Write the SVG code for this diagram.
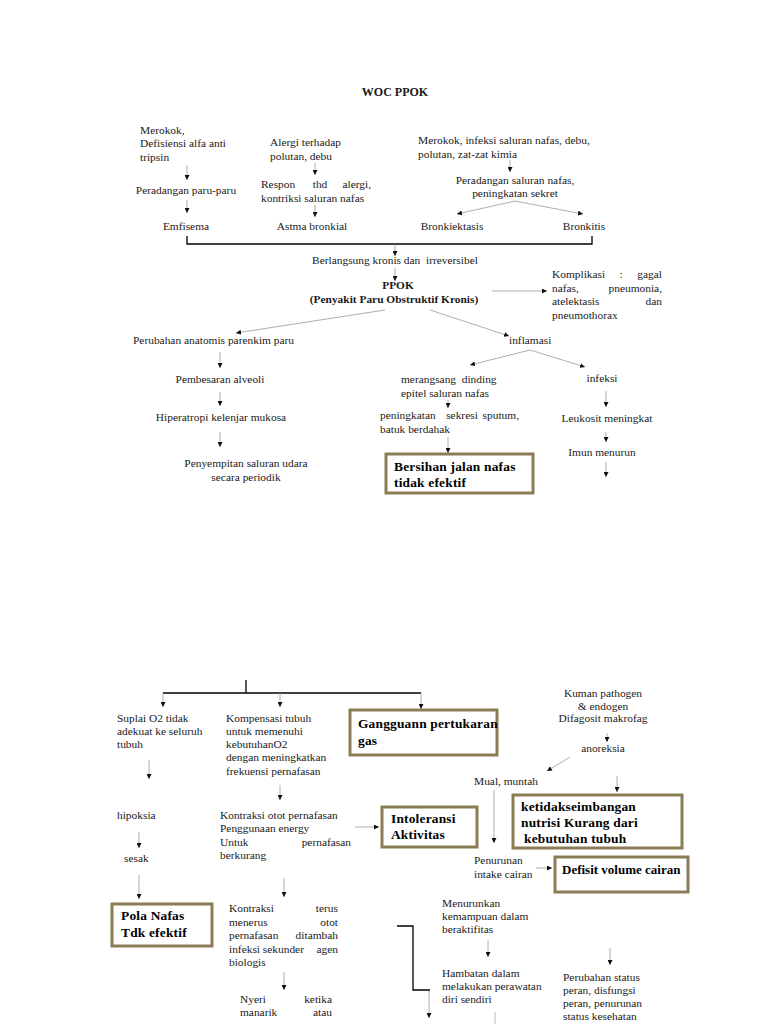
<svg xmlns="http://www.w3.org/2000/svg" width="768" height="1024" viewBox="0 0 768 1024">
<style>
text{font-family:"Liberation Serif","Times New Roman",serif;font-size:11.4px;fill:#1a1a1a}
.m{text-anchor:middle}
.e{text-anchor:end}
.b{font-weight:bold}
.bx{font-weight:bold;font-size:13.4px;letter-spacing:0.2px;fill:#000}
.box{fill:#fff;stroke:#8a7d56;stroke-width:3}
.a{stroke:#9a9a9a;stroke-width:0.8;fill:none;marker-end:url(#ah)}
.k{stroke:#000;stroke-width:1.3;fill:none}
</style>
<defs>
<marker id="ah" viewBox="0 0 6 6" refX="6" refY="3" markerWidth="5" markerHeight="5" orient="auto" markerUnits="userSpaceOnUse"><path d="M0,0 L6,3 L0,6 z" fill="#111"/></marker>
</defs>
<rect width="768" height="1024" fill="#fff"/>
<text x="395" y="96" class="m b" style="font-size:12px">WOC PPOK</text>

<g id="connectors">
<line class="a" x1="187" y1="165" x2="187" y2="180"/>
<line class="a" x1="187" y1="200" x2="187" y2="213"/>
<line class="a" x1="315" y1="163" x2="315" y2="175"/>
<line class="a" x1="315" y1="205" x2="315" y2="217"/>
<line class="a" x1="510" y1="160" x2="510" y2="172"/>
<line class="a" x1="515" y1="201" x2="457" y2="214"/>
<line class="a" x1="515" y1="201" x2="583" y2="214"/>
<path class="k" d="M187,236 V244 H592 V236"/>
<line class="a" x1="395" y1="244" x2="395" y2="256"/>
<line class="a" x1="395" y1="268" x2="395" y2="281"/>
<line class="a" x1="492" y1="291" x2="547" y2="291"/>
<line class="a" x1="385" y1="310" x2="236" y2="333"/>
<line class="a" x1="430" y1="310" x2="509" y2="336"/>
<line class="a" x1="220" y1="352" x2="220" y2="368"/>
<line class="a" x1="220" y1="392" x2="220" y2="406"/>
<line class="a" x1="220" y1="432" x2="220" y2="447"/>
<line class="a" x1="530" y1="350" x2="470" y2="365"/>
<line class="a" x1="530" y1="350" x2="585" y2="367"/>
<line class="a" x1="448" y1="400" x2="448" y2="408"/>
<line class="a" x1="448" y1="437" x2="448" y2="453"/>
<line class="a" x1="606" y1="391" x2="606" y2="407"/>
<line class="a" x1="606" y1="432" x2="606" y2="442"/>
<line class="a" x1="606" y1="462" x2="606" y2="477"/>
<path class="k" d="M246,680 V693 M163,693 H421"/>
<line class="a" x1="163" y1="693" x2="163" y2="707"/>
<line class="a" x1="280" y1="693" x2="280" y2="707"/>
<line class="a" x1="421" y1="693" x2="421" y2="709"/>
<line class="a" x1="149" y1="760" x2="149" y2="779"/>
<line class="a" x1="280" y1="785" x2="280" y2="800"/>
<line class="a" x1="355" y1="827" x2="379" y2="827"/>
<line class="a" x1="139" y1="832" x2="139" y2="848"/>
<line class="a" x1="139" y1="875" x2="139" y2="899"/>
<line class="a" x1="284" y1="878" x2="284" y2="897"/>
<line class="a" x1="284" y1="972" x2="284" y2="990"/>
<line class="a" x1="607" y1="733" x2="607" y2="742"/>
<line class="a" x1="570" y1="757" x2="547" y2="771"/>
<line class="a" x1="617" y1="776" x2="617" y2="792"/>
<line class="a" x1="494" y1="790" x2="494" y2="843"/>
<line class="a" x1="536" y1="868" x2="552" y2="868"/>
<line class="a" x1="488" y1="940" x2="488" y2="957"/>
<path class="k" d="M397,926 H413 V990 H430"/>
<line class="a" x1="429" y1="991" x2="429" y2="1018"/>
<line x1="495" y1="1012" x2="495" y2="1024" stroke="#aaa" stroke-width="0.8"/>
<line class="a" x1="610" y1="948" x2="610" y2="965"/>
</g>

<g id="n-merokok"><text x="140" y="134">Merokok,</text><text x="140" y="147">Defisiensi alfa anti</text><text x="140" y="161">tripsin</text></g>
<g id="n-peradangan-paru"><text x="186" y="194" class="m">Peradangan paru-paru</text></g>
<g id="n-emfisema"><text x="186" y="230" class="m">Emfisema</text></g>
<g id="n-alergi"><text x="270" y="146">Alergi terhadap</text><text x="270" y="160">polutan, debu</text></g>
<g id="n-respon"><text x="261" y="188">Respon</text><text x="320" y="188" class="m">thd</text><text x="371" y="188" class="e">alergi,</text><text x="261" y="202">kontriksi saluran nafas</text></g>
<g id="n-astma"><text x="312" y="230" class="m">Astma bronkial</text></g>
<g id="n-merokok2"><text x="418" y="144">Merokok, infeksi saluran nafas, debu,</text><text x="418" y="158">polutan, zat-zat kimia</text></g>
<g id="n-peradangan-saluran"><text x="515" y="184" class="m">Peradangan saluran nafas,</text><text x="515" y="197" class="m">peningkatan sekret</text></g>
<g id="n-bronkiektasis"><text x="452" y="230" class="m">Bronkiektasis</text></g>
<g id="n-bronkitis"><text x="584" y="230" class="m">Bronkitis</text></g>
<g id="n-berlangsung"><text x="395" y="264" class="m" xml:space="preserve">Berlangsung kronis dan  irreversibel</text></g>
<g id="n-ppok"><text x="398" y="289" class="m b">PPOK</text><text x="394" y="303" class="m b">(Penyakit Paru Obstruktif Kronis)</text></g>
<g id="n-komplikasi"><text x="552" y="278">Komplikasi</text><text x="621" y="278" class="m">:</text><text x="662" y="278" class="e">gagal</text><text x="552" y="292">nafas,</text><text x="662" y="292" class="e">pneumonia,</text><text x="552" y="305">atelektasis</text><text x="662" y="305" class="e">dan</text><text x="552" y="319">pneumothorax</text></g>
<g id="n-perubahan-anatomis"><text x="133" y="344">Perubahan anatomis parenkim paru</text></g>
<g id="n-pembesaran"><text x="220" y="383" class="m">Pembesaran alveoli</text></g>
<g id="n-hiperatropi"><text x="221" y="421" class="m">Hiperatropi kelenjar mukosa</text></g>
<g id="n-penyempitan"><text x="246" y="467" class="m">Penyempitan saluran udara</text><text x="246" y="481" class="m">secara periodik</text></g>
<g id="n-inflamasi"><text x="509" y="344">inflamasi</text></g>
<g id="n-merangsang"><text x="401" y="383" xml:space="preserve">merangsang  dinding</text><text x="401" y="397">epitel saluran nafas</text></g>
<g id="n-peningkatan-sekresi"><text x="380" y="419">peningkatan</text><text x="462" y="419" class="m">sekresi</text><text x="519" y="419" class="e">sputum,</text><text x="380" y="433">batuk berdahak</text></g>
<g id="n-bersihan"><rect class="box" x="386" y="454" width="147" height="39"/><text x="394" y="471" class="bx">Bersihan jalan nafas</text><text x="394" y="487" class="bx">tidak efektif</text></g>
<g id="n-infeksi"><text x="602" y="382" class="m">infeksi</text></g>
<g id="n-leukosit"><text x="607" y="422" class="m">Leukosit meningkat</text></g>
<g id="n-imun"><text x="602" y="456" class="m">Imun menurun</text></g>

<g id="n-suplai"><text x="117" y="722">Suplai O2 tidak</text><text x="117" y="735">adekuat ke seluruh</text><text x="117" y="748">tubuh</text></g>
<g id="n-kompensasi"><text x="226" y="722">Kompensasi tubuh</text><text x="226" y="735">untuk memenuhi</text><text x="226" y="748">kebutuhanO2</text><text x="226" y="761">dengan meningkatkan</text><text x="226" y="775">frekuensi pernafasan</text></g>
<g id="n-gangguan"><rect class="box" x="350" y="710" width="147" height="45"/><text x="358" y="728" class="bx">Gangguann pertukaran</text><text x="358" y="745" class="bx">gas</text></g>
<g id="n-hipoksia"><text x="117" y="819">hipoksia</text></g>
<g id="n-kontraksi"><text x="220" y="819">Kontraksi otot pernafasan</text><text x="220" y="832">Penggunaan energy</text><text x="220" y="846">Untuk</text><text x="351" y="846" class="e">pernafasan</text><text x="220" y="859">berkurang</text></g>
<g id="n-intoleransi"><rect class="box" x="382" y="807" width="95" height="40"/><text x="391" y="823" class="bx">Intoleransi</text><text x="391" y="839" class="bx">Aktivitas</text></g>
<g id="n-sesak"><text x="124" y="862">sesak</text></g>
<g id="n-pola"><rect class="box" x="112" y="904" width="100" height="42"/><text x="121" y="920" class="bx">Pola Nafas</text><text x="121" y="937" class="bx">Tdk efektif</text></g>
<g id="n-kontraksi2"><text x="229" y="912">Kontraksi</text><text x="338" y="912" class="e">terus</text><text x="229" y="926">menerus</text><text x="338" y="926" class="e">otot</text><text x="229" y="939">pernafasan</text><text x="338" y="939" class="e">ditambah</text><text x="229" y="953">infeksi sekunder</text><text x="338" y="953" class="e">agen</text><text x="229" y="966">biologis</text></g>
<g id="n-nyeri"><text x="240" y="1003">Nyeri</text><text x="332" y="1003" class="e">ketika</text><text x="240" y="1016">manarik</text><text x="332" y="1016" class="e">atau</text></g>
<g id="n-kuman"><text x="603" y="697" class="m">Kuman pathogen</text><text x="603" y="710" class="m">&amp; endogen</text><text x="603" y="722" class="m">Difagosit makrofag</text></g>
<g id="n-anoreksia"><text x="603" y="752" class="m">anoreksia</text></g>
<g id="n-mual"><text x="474" y="785">Mual, muntah</text></g>
<g id="n-ketidakseimbangan"><rect class="box" x="513" y="795" width="169" height="53"/><text x="521" y="811" class="bx">ketidakseimbangan</text><text x="521" y="827" class="bx">nutrisi Kurang dari</text><text x="524" y="843" class="bx">kebutuhan tubuh</text></g>
<g id="n-penurunan"><text x="474" y="864">Penurunan</text><text x="474" y="878">intake cairan</text></g>
<g id="n-defisit"><rect class="box" x="555" y="857" width="133" height="35"/><text x="562" y="874" class="bx" style="letter-spacing:0;font-size:13px">Defisit volume cairan</text></g>
<g id="n-menurunkan"><text x="442" y="907">Menurunkan</text><text x="442" y="920">kemampuan dalam</text><text x="442" y="933">beraktifitas</text></g>
<g id="n-hambatan"><text x="442" y="977">Hambatan dalam</text><text x="442" y="990">melakukan perawatan</text><text x="442" y="1003">diri sendiri</text></g>
<g id="n-perubahan-status"><text x="563" y="981">Perubahan status</text><text x="563" y="994">peran, disfungsi</text><text x="563" y="1007">peran, penurunan</text><text x="563" y="1020">status kesehatan</text></g>
</svg>
